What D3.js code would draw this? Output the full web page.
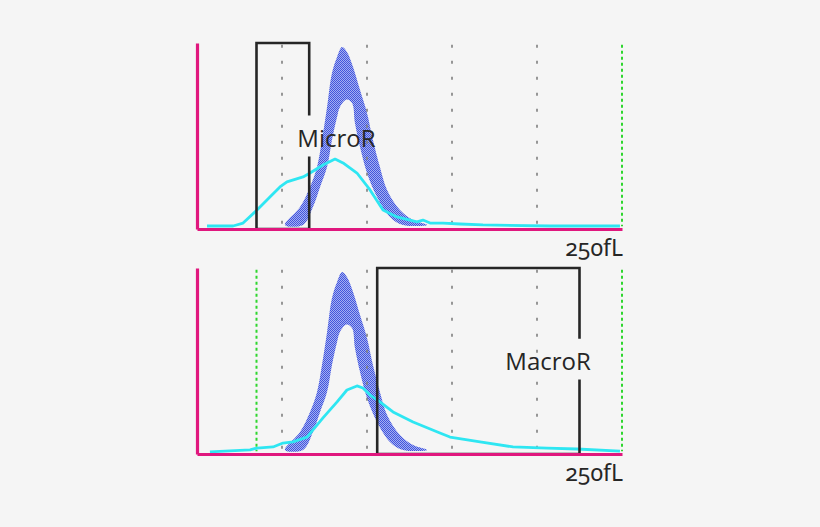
<!DOCTYPE html>
<html>
<head>
<meta charset="utf-8">
<script src="https://cdn.jsdelivr.net/npm/d3@7"></script>
<style>
  html, body { margin: 0; padding: 0; background: #f5f5f5; }
  svg { display: block; }
</style>
</head>
<body>
<svg id="chart" width="820" height="527"></svg>
<script>
// ---------- data ----------
const gridTicks = [50, 100, 150, 200];            // fL, grey dotted lines
const greenLines1 = [250];                         // fL, green dotted (top panel)
const greenLines2 = [35, 250];                     // fL, green dotted (bottom panel)
const axisLabel = "250fL";

// reference band (outer and inner boundary), [fL, relative height]
const bandOuter = [
  [51.8, 2.2], [60.6, 11.8], [66.5, 22.6], [70.6, 33.3], [73.5, 47.8], [76.5, 65.6],
  [79.4, 83.9], [82.4, 92.5], [85.3, 97.8], [88.2, 95.2], [91.8, 87.1], [95.9, 74.7],
  [100, 62.4], [103.5, 47.8], [107.6, 33.3], [111.8, 21], [119.4, 10.2], [127.1, 4.8],
  [135.3, 2.2]
];
const bandInner = [
  [62.4, 2.2], [68.2, 11.8], [72.4, 22.6], [76.5, 33.3], [79.4, 47.8], [82.4, 60.2],
  [84.1, 65.6], [88, 69.6], [91.2, 67.7], [92.9, 57], [95.9, 44.1], [100, 30.1],
  [105.9, 17.2], [113.5, 6.5], [121.2, 2.2]
];

// sample histograms
const cyanMicro = [
  [5.9, 1.6], [21.2, 1.6], [27.1, 3.2], [35.3, 10.2], [42.9, 17.2], [48.8, 22.6],
  [52.9, 25.3], [62.4, 28], [66.5, 30.1], [74.1, 34.4], [81.2, 37.6], [85.9, 35.5],
  [94.1, 30.1], [101.8, 21], [109.4, 10.2], [117.6, 6.5], [129.4, 3.8], [132.9, 4.8],
  [137.1, 3.2], [144.7, 3.2], [154.7, 2.7], [168.2, 2.2], [207.6, 1.6], [248.8, 1.6]
];
const cyanMacro = [
  [7.6, 1.1], [31.2, 2.2], [35.3, 3.2], [44.7, 3.8], [50.6, 5.9], [56.5, 6.5],
  [64.7, 9.1], [74.1, 19.4], [82.4, 28], [88.2, 34.4], [94.1, 36.6], [97.6, 35.5],
  [101.8, 31.7], [107.6, 28], [115.3, 22.6], [127.1, 17.2], [142.9, 11.3], [148.8, 9.1],
  [166.5, 6.5], [185.9, 3.8], [205.9, 3.2], [223.5, 2.7], [248.8, 1.6]
];

// gates [fromFL, toFL] and labels [label, labelFL, labelY]
const microBox = [35, 66];
const macroBox = [106, 225];
const microLabel = ["MicroR", 82, 44];
const macroLabel = ["MacroR", 206.5, 45];

// ---------- drawing ----------
const svg = d3.select("#chart");
svg.append("rect").attr("width", 820).attr("height", 527).attr("fill", "#f5f5f5");

const defs = svg.append("defs");
const pat = defs.append("pattern").attr("id", "hatch")
  .attr("patternUnits", "userSpaceOnUse").attr("width", 2).attr("height", 2);
pat.append("rect").attr("width", 2).attr("height", 2).attr("fill", "#a3aef3");
pat.append("rect").attr("width", 1).attr("height", 1).attr("fill", "#4356db");
pat.append("rect").attr("x", 1).attr("y", 1).attr("width", 1).attr("height", 1).attr("fill", "#4356db");

const x = d3.scaleLinear().domain([0, 250]).range([197, 622]);

const panels = [
  { top: 43, bottom: 229, cyan: cyanMicro, box: microBox, label: microLabel, green: greenLines1 },
  { top: 268, bottom: 454, cyan: cyanMacro, box: macroBox, label: macroLabel, green: greenLines2 }
];

panels.forEach(p => {
  const y = d3.scaleLinear().domain([0, 100]).range([p.bottom, p.top]);
  const g = svg.append("g");

  // band
  const poly = bandOuter.concat(bandInner.slice().reverse());
  const bandLine = d3.line().x(d => x(d[0])).y(d => y(d[1])).curve(d3.curveCatmullRomClosed.alpha(0.5));
  g.append("path").attr("d", bandLine(poly)).attr("fill", "url(#hatch)");

  // grey dotted grid
  g.selectAll(".grid").data(gridTicks).join("line")
    .attr("x1", d => x(d)).attr("x2", d => x(d))
    .attr("y1", y(99)).attr("y2", y(2))
    .attr("stroke", "#7f7f7f").attr("stroke-width", 1.6)
    .attr("stroke-dasharray", "3,13");

  // green dotted lines
  g.selectAll(".green").data(p.green).join("line")
    .attr("x1", d => x(d)).attr("x2", d => x(d))
    .attr("y1", y(99)).attr("y2", y(1.5))
    .attr("stroke", "#2fd62f").attr("stroke-width", 2)
    .attr("stroke-dasharray", "3,3");

  // cyan histogram
  const cLine = d3.line().x(d => x(d[0])).y(d => y(d[1])).curve(d3.curveLinear);
  g.append("path").attr("d", cLine(p.cyan)).attr("fill", "none")
    .attr("stroke", "#2ee6f2").attr("stroke-width", 2.8).attr("stroke-linejoin", "round");

  // gate box with gap for label
  const [b0, b1] = p.box;
  const [txt, lx, ly] = p.label;
  const gapTop = ly + 17, gapBot = ly - 5;
  const boxPath = d3.path();
  boxPath.moveTo(x(b1), y(gapTop));
  boxPath.lineTo(x(b1), y(100));
  boxPath.lineTo(x(b0), y(100));
  boxPath.lineTo(x(b0), y(0));
  boxPath.lineTo(x(b1), y(0));
  boxPath.lineTo(x(b1), y(gapBot));
  g.append("path").attr("d", boxPath.toString()).attr("fill", "none")
    .attr("stroke", "#262626").attr("stroke-width", 2.6);

  g.append("text").attr("x", x(lx)).attr("y", y(ly))
    .attr("text-anchor", "middle")
    .attr("font-family", "'Open Sans', sans-serif").attr("font-size", 24)
    .attr("fill", "#262626").text(txt);

  // axes (magenta)
  const xAxis = d3.axisBottom(x).tickValues([]).tickSizeOuter(0);
  const ax = g.append("g").attr("transform", `translate(0,${p.bottom})`).call(xAxis);
  ax.select(".domain").attr("stroke", "#e0177e").attr("stroke-width", 3.2);
  const yAxis = d3.axisLeft(y).tickValues([]).tickSizeOuter(0);
  const ay = g.append("g").attr("transform", `translate(${x(0)},0)`).call(yAxis);
  ay.select(".domain").attr("stroke", "#e0177e").attr("stroke-width", 3.2);

  g.append("text").attr("x", x(250) + 1).attr("y", p.bottom + 27)
    .attr("text-anchor", "end")
    .attr("font-family", "'Noto Sans', sans-serif").attr("font-size", 23)
    .style("font-feature-settings", "'onum' 1")
    .attr("fill", "#262626").text(axisLabel);
});
</script>
</body>
</html>
